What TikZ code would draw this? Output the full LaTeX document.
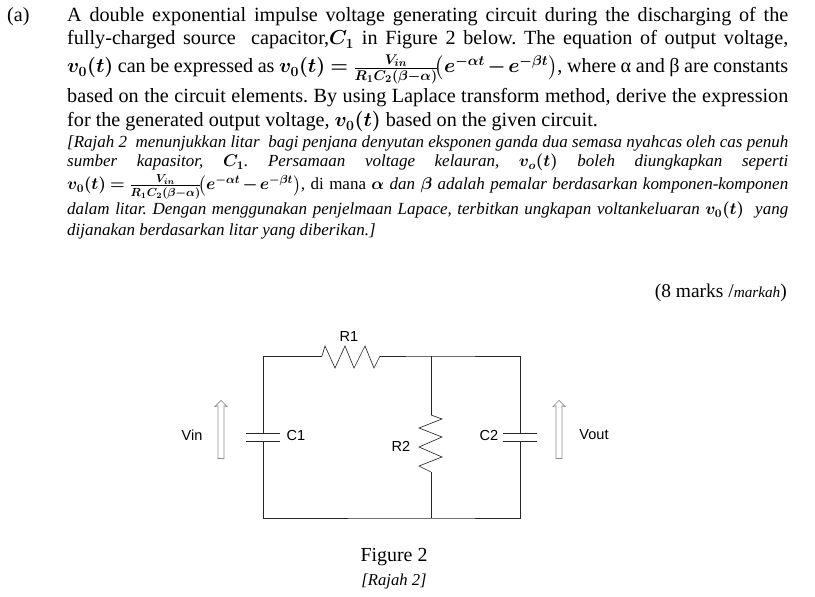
\documentclass[tikz,border=0pt]{standalone}
\usepackage{amsmath, amssymb}
\usepackage{fontspec}
\setmainfont{Liberation Serif}
\newfontfamily\labelfont{Liberation Sans}
\usepackage{xcolor}
\usetikzlibrary{shapes, arrows, positioning, calc}
\newcommand{\riga}[1]{\makebox[21.63cm][s]{\frenchspacing\thickmuskip=4mu\medmuskip=2mu #1}}
\tikzset{
    testo/.style={anchor=base west, inner sep=0pt, font=\fontsize{17.2}{20}\selectfont\boldmath},
    testoit/.style={anchor=base west, inner sep=0pt, font=\fontsize{14.5}{16}\selectfont\itshape\boldmath},
    didascalia/.style={anchor=base, inner sep=0pt, font=\fontsize{17}{18}\selectfont},
    etichetta/.style={inner sep=0pt, font=\labelfont\fontsize{12.4}{14}\selectfont},
    filo/.style={draw=black!85, line width=0.55pt},
    piastra/.style={draw=black!85, line width=0.7pt},
    freccia/.style={shape=single arrow, draw=black!45, line width=0.6pt, rotate=90, inner xsep=0pt, inner ysep=0.08cm,
        minimum height=1.74cm, minimum width=0.36cm, single arrow head extend=0.09cm, single arrow head indent=0.02cm}
}
\begin{document}
\begin{tikzpicture}[x=0.03cm, y=-0.03cm]
    \useasboundingbox (0,0) rectangle (815,597);

    \node[testo] (Parte) at (7,22) {(a)};
    \node[testo] (Riga1) at (67,22) {\riga{A double exponential impulse voltage generating circuit during the discharging of the}};
    \node[testo] (Riga2) at (67,45) {\riga{fully-charged source \ capacitor,$C_1$ in Figure 2 below. The equation of output voltage,}};
    \node[testo] (Riga3) at (67,73) {\riga{$v_0(t)$ can be expressed as $v_0(t)=\frac{V_{in}}{R_1C_2(\beta-\alpha)}\!\!\left(e^{-\alpha t}-e^{-\beta t}\right)$, where α and β are constants}};
    \node[testo] (Riga4) at (67,103) {\riga{based on the circuit elements. By using Laplace transform method, derive the expression}};
    \node[testo] (Riga5) at (67,127) {for the generated output voltage, $v_0(t)$ based on the given circuit.};

    \node[testoit] (Rajah1) at (67,148) {\riga{[Rajah 2 \ menunjukkan litar \ bagi penjana denyutan eksponen ganda dua semasa nyahcas oleh cas penuh}};
    \node[testoit] (Rajah2) at (67,167) {\riga{sumber kapasitor, $C_1$. Persamaan voltage kelauran, $v_o(t)$ boleh diungkapkan seperti}};
    \node[testoit] (Rajah3) at (67,190) {\riga{$v_0(t)=\frac{V_{in}}{R_1C_2(\beta-\alpha)}\!\!\left(e^{-\alpha t}-e^{-\beta t}\right)$, {\upshape di mana} $\alpha$ dan $\beta$ adalah pemalar berdasarkan komponen-komponen}};
    \node[testoit] (Rajah4) at (67,215) {\riga{dalam litar. Dengan menggunakan penjelmaan Lapace, terbitkan ungkapan voltankeluaran $v_0(t)$ \ yang}};
    \node[testoit] (Rajah5) at (67,235) {dijanakan berdasarkan litar yang diberikan.]};

    \node[testo, anchor=base east, font=\fontsize{16.6}{20}\selectfont] (Markah) at (787,297) {(8 marks /{\fontsize{13}{16}\selectfont\itshape markah})};

    \coordinate (AltoSx) at (263,356);
    \coordinate (AltoCentro) at (431,356);
    \coordinate (AltoDx) at (520,356);
    \coordinate (BassoSx) at (263,518);
    \coordinate (BassoCentro) at (431,518);
    \coordinate (BassoDx) at (520,518);
    \coordinate (R1in) at (322,356);
    \coordinate (R1out) at (380,356);
    \coordinate (R2in) at (431,415);
    \coordinate (R2out) at (431,472);
    \coordinate (C1su) at (263,433);
    \coordinate (C1giu) at (263,441);
    \coordinate (C2su) at (520,433);
    \coordinate (C2giu) at (520,441);

    \draw[filo] (C1su) -- (AltoSx) -- (R1in);
    \draw[filo] (R1in) -- ++(3,-10) -- ++(10,22) -- ++(10,-22) -- ++(9,22) -- ++(11,-22) -- ++(9,22) -- (R1out);
    \draw[filo] (R1out) -- (AltoCentro) -- (AltoDx) -- (C2su);
    \draw[filo] (AltoCentro) -- (R2in);
    \draw[filo] (R2in) -- ++(11,4) -- ++(-23,9) -- ++(23,9) -- ++(-23,10) -- ++(23,10) -- ++(-23,9) -- (R2out);
    \draw[filo] (R2out) -- (BassoCentro);
    \draw[filo] (C1giu) -- (BassoSx) -- (BassoCentro) -- (BassoDx) -- (C2giu);

    \draw[piastra] ($(C1su)+(-17,0)$) -- ($(C1su)+(17,0)$);
    \draw[piastra] ($(C1giu)+(-17,0)$) -- ($(C1giu)+(17,0)$);
    \draw[piastra] ($(C2su)+(-17,0)$) -- ($(C2su)+(17,0)$);
    \draw[piastra] ($(C2giu)+(-17,0)$) -- ($(C2giu)+(17,0)$);

    \node[etichetta] (R1) at (349,337) {R1};
    \node[etichetta] (R2) at (401,446) {R2};
    \node[etichetta] (C1) at (296,435) {C1};
    \node[etichetta] (C2) at (489,435) {C2};
    \node[etichetta] (Vin) at (192,435) {Vin};
    \node[etichetta] (Vout) at (594,435) {Vout};

    \node[freccia] (FrecciaVin) at (221,431) {};
    \node[freccia] (FrecciaVout) at (559,431) {};

    \node[didascalia] (Figura) at (394,561) {Figure 2};
    \node[didascalia, font=\fontsize{14.2}{18}\selectfont\itshape] (Rajah) at (394,585) {[Rajah 2]};
\end{tikzpicture}
\end{document}
